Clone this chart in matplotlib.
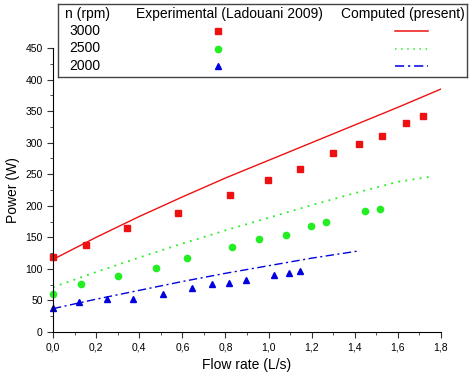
import matplotlib
matplotlib.use("Agg")
import matplotlib.pyplot as plt
from matplotlib.ticker import MultipleLocator, FuncFormatter

plt.rcParams['font.family'] = ['Liberation Sans', 'DejaVu Sans']

# experimental data (Ladouani 2009)
q_3000 = [0.0, 0.152, 0.342, 0.58, 0.82, 0.997, 1.147, 1.297, 1.419, 1.527, 1.637, 1.716]
p_3000 = [119, 138, 164, 189, 217, 241, 259, 283, 298, 311, 331, 343]
q_2500 = [0.0, 0.128, 0.301, 0.478, 0.62, 0.832, 0.957, 1.079, 1.198, 1.266, 1.447, 1.517]
p_2500 = [61, 76, 89, 101, 118, 135, 148, 154, 168, 175, 191, 195]
q_2000 = [0.0, 0.121, 0.252, 0.373, 0.512, 0.643, 0.739, 0.818, 0.897, 1.027, 1.095, 1.146]
p_2000 = [37.5, 47, 52, 52, 61, 69, 76, 78, 82, 91, 94, 96]

# computed curves
qc_3000 = [0.0, 0.2, 0.4, 0.6, 0.8, 1.0, 1.2, 1.4, 1.6, 1.8]
pc_3000 = [115, 150, 183, 214, 244, 272, 300, 328, 356, 385]
qc_2500 = [0.0, 0.2, 0.4, 0.6, 0.8, 1.0, 1.2, 1.4, 1.6, 1.75]
pc_2500 = [71, 95, 118, 140, 161, 181, 201, 220, 238, 246]
qc_2000 = [0.0, 0.2, 0.4, 0.6, 0.8, 1.0, 1.2, 1.41]
pc_2000 = [37, 52, 66, 80, 93, 105, 117, 128]

speeds = ['3000', '2500', '2000']
RED, GREEN, BLUE = '#ee1111', '#22ee22', '#0000dd'
DOTS = (0, (1, 3))

fig = plt.figure(figsize=(4.74, 3.78), dpi=100)
ax = fig.add_axes([53 / 474, 1 - 332 / 378, (441 - 53) / 474, (332 - 48) / 378])

ax.plot(qc_3000, pc_3000, '-', color=RED, lw=1.0)
ax.plot(qc_2500, pc_2500, ls=DOTS, color=GREEN, lw=1.3)
ax.plot(qc_2000, pc_2000, ls=(0, (6, 2.5, 1.5, 2.5)), color=BLUE, lw=1.0)
ax.plot(q_3000, p_3000, 's', color=RED, ms=4, ls='none', clip_on=False)
ax.plot(q_2500, p_2500, 'o', color=GREEN, ms=4.5, ls='none', clip_on=False)
ax.plot(q_2000, p_2000, '^', color=BLUE, ms=4.5, ls='none', clip_on=False)

ax.set_xlim(0, 1.8)
ax.set_ylim(0, 450)
for s in ['top', 'right']:
    ax.spines[s].set_visible(False)
ax.xaxis.set_major_locator(MultipleLocator(0.2))
ax.xaxis.set_minor_locator(MultipleLocator(0.1))
ax.yaxis.set_major_locator(MultipleLocator(50))
ax.yaxis.set_minor_locator(MultipleLocator(25))
ax.xaxis.set_major_formatter(FuncFormatter(lambda v, p: f"{v:.1f}".replace('.', ',')))
ax.tick_params(which='major', direction='out', length=4, labelsize=7.5, color='#333333')
ax.tick_params(which='minor', direction='out', length=2, color='#333333')
ax.set_xlabel('Flow rate (L/s)', fontsize=10)
ax.set_ylabel('Power (W)', fontsize=10)

# legend box laid out as a small table
lg = fig.add_axes([58 / 474, 1 - 77 / 378, (467 - 58) / 474, (77 - 4) / 378])
lg.set_xlim(0, 409)
lg.set_ylim(73, 0)
lg.set_xticks([])
lg.set_yticks([])
for s in lg.spines.values():
    s.set_color('#444444')
    s.set_linewidth(1.0)
fs = 10
lg.text(7, 10, 'n (rpm)', fontsize=fs, va='center', ha='left')
lg.text(171, 10, 'Experimental (Ladouani 2009)', fontsize=fs, va='center', ha='center')
lg.text(345, 10, 'Computed (present)', fontsize=fs, va='center', ha='center')
rows = [27, 44.5, 62]
styles = [('s', '-', RED, 4), ('o', DOTS, GREEN, 4.5), ('^', (0, (6, 2.5, 1.5, 2.5)), BLUE, 4.5)]
for y, sp, (mk, ls, c, ms) in zip(rows, speeds, styles):
    lg.text(11, y, sp, fontsize=fs, va='center', ha='left')
    lg.plot([160], [y], mk, color=c, ms=ms)
    lg.plot([337, 370], [y, y], ls=ls, color=c, lw=1.1)

fig.savefig('out.png', dpi=100)
